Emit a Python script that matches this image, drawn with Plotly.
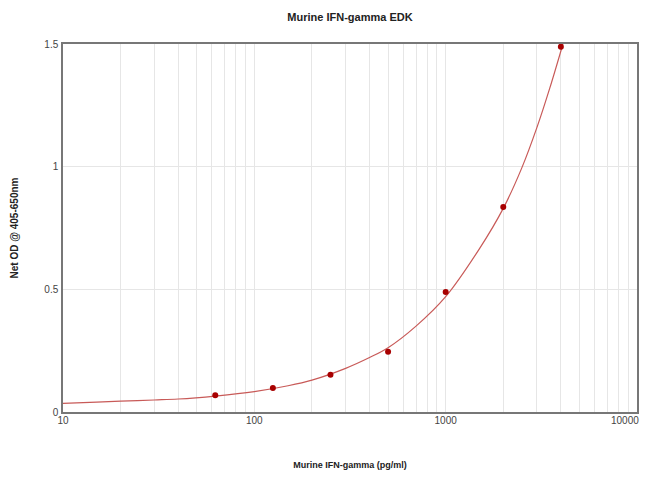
import math
import plotly.graph_objects as go

# Standards (pg/ml) and measured Net OD
conc = [62.5, 125, 250, 500, 1000, 2000, 4000]
od = [0.068, 0.098, 0.152, 0.246, 0.489, 0.836, 1.489]

# Fitted curve
curve_x = [10, 15, 20, 30, 40, 62.5, 100, 150, 200, 300, 400, 500, 700, 1000, 1500, 2000, 2500, 3000, 3500, 4100]
curve_y = [0.035, 0.040, 0.044, 0.049, 0.053, 0.065, 0.083, 0.107, 0.130, 0.178, 0.222, 0.262, 0.350, 0.470, 0.665, 0.830, 0.995, 1.160, 1.320, 1.500]

# Axis ticks
x_ticks = [v * m for v in (10, 100, 1000) for m in range(1, 10)] + [10000]
x_labels = [str(v) if v in (10, 100, 1000) else "" for v in x_ticks]
x_last_label = "10000"
y_ticks = [0, 0.5, 1, 1.5]
y_labels = ["0", "0.5", "1", "1.5"]

# The page body adds an 8px offset; the figure is sized to compensate
OFF = 8
W, H = 650 - OFF, 495 - OFF

fig = go.Figure()
fig.add_trace(go.Scatter(x=curve_x, y=curve_y, mode="lines",
                         line=dict(color="#c85a58", width=1.2, shape="spline"),
                         hoverinfo="skip", showlegend=False))
fig.add_trace(go.Scatter(x=conc, y=od, mode="markers",
                         marker=dict(color="#a80000", size=6),
                         showlegend=False))

font = "Liberation Sans, Arial, sans-serif"
fig.add_annotation(x=math.log10(x_ticks[-1]), xref="x", y=0, yref="paper",
                   text=x_last_label, showarrow=False, xanchor="right", yanchor="top",
                   xshift=4, yshift=-1, font=dict(size=10, color="#444444", family=font))

fig.update_layout(
    width=W, height=H,
    margin=dict(l=63 - OFF, r=13, t=44 - OFF, b=83, autoexpand=False),
    paper_bgcolor="white", plot_bgcolor="white",
    font=dict(family=font, size=10, color="#333333"),
    title=dict(text="<b>Murine IFN-gamma EDK</b>", x=(63 - OFF + (W - 13)) / 2 / W,
               xanchor="center", y=1 - (17 - OFF) / H, yanchor="middle",
               font=dict(size=11, color="#222222", family=font)),
    xaxis=dict(type="log", range=[1, 4], tickvals=x_ticks, ticktext=x_labels,
               showgrid=True, gridcolor="#e6e6e6", gridwidth=1,
               showline=True, linecolor="#777777", linewidth=1.5, mirror=True,
               ticks="", zeroline=False, automargin=False,
               ticklabeloverflow="allow", ticklabelstandoff=-2,
               tickfont=dict(size=10, color="#444444"),
               title=dict(text="<b>Murine IFN-gamma (pg/ml)</b>", standoff=37,
                          font=dict(size=9, color="#222222"))),
    yaxis=dict(range=[0, 1.5], tickvals=y_ticks, ticktext=y_labels,
               showgrid=True, gridcolor="#e6e6e6", gridwidth=1,
               showline=True, linecolor="#777777", linewidth=1.5, mirror=True,
               ticks="", zeroline=False, automargin=False, ticklabelstandoff=1,
               tickfont=dict(size=10, color="#444444"),
               title=dict(text="<b>Net OD @ 405-650nm</b>", standoff=24,
                          font=dict(size=10, color="#222222"))),
)

fig.write_html("out.html")
